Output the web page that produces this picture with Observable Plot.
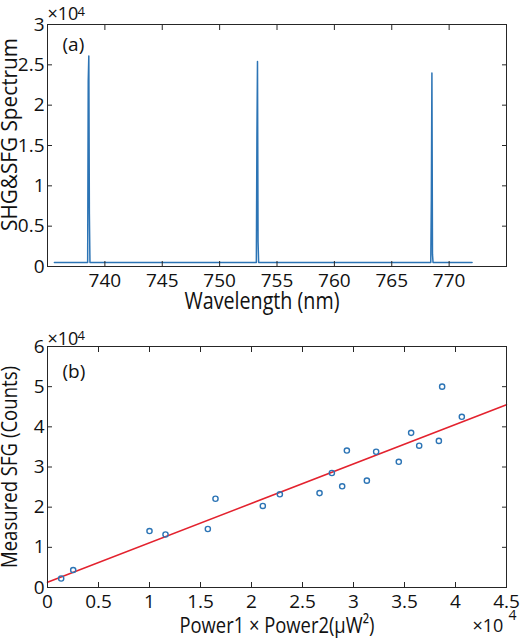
<!DOCTYPE html>
<html>
<head>
<meta charset="utf-8">
<script src="https://cdn.jsdelivr.net/npm/d3@7"></script>
<script src="https://cdn.jsdelivr.net/npm/@observablehq/plot@0.6"></script>
<style>
  html, body { margin: 0; padding: 0; background: #fff; }
  #chart { width: 520px; }
  #chart svg { display: block; overflow: visible; }
</style>
</head>
<body>
<div id="chart"></div>
<script>
// ---- Panel (a): spectrum ----
const wavelength = [735.6, 738.5, 738.55, 738.6, 738.65, 738.7, 753.2, 753.25, 753.3, 753.35, 753.4, 768.4, 768.45, 768.5, 768.55, 768.6, 772.0];
const intensity  = [500,   500,   23000,  26100,  6500,   500,   500,   16000,  25400,  3000,   500,   500,   8200,   24000,  1500,   500,   500];
const xTicksA = [740, 745, 750, 755, 760, 765, 770];
const yTicksA = [0, 5000, 10000, 15000, 20000, 25000, 30000];

// ---- Panel (b): SFG vs power product ----
const powerProduct = [1340, 2520, 10000, 11570, 15720, 16470, 21110, 22780, 26670, 27880, 28890, 29350, 31310, 32220, 34440, 35650, 36440, 38370, 38690, 40620];
const measuredSFG  = [2240, 4340, 14060, 13200, 14560, 22100, 20300, 23200, 23500, 28500, 25200, 34100, 26600, 33800, 31300, 38500, 35300, 36500, 50000, 42500];
const fitX = [0, 45000];
const fitY = [1300, 45500];
const xTicksB = [0, 5000, 10000, 15000, 20000, 25000, 30000, 35000, 40000, 45000];
const yTicksB = [0, 10000, 20000, 30000, 40000, 50000, 60000];

const FONT = "'Open Sans', 'Noto Sans', sans-serif";
const AX = "#262626";
const TXT = "#111";
const fmt = d => String(+(d / 1e4).toFixed(1));

function inwardAxes(xTicks, yTicks, xFmt) {
  const common = {stroke: AX, strokeWidth: 1};
  return [
    Plot.axisX(xTicks, {anchor: "bottom", tickSize: 0, tickPadding: 7, tickFormat: xFmt, label: null, fill: TXT, fontSize: 19, fontWeight: 500}),
    Plot.axisY(yTicks, {anchor: "left", tickSize: 0, tickPadding: 3, tickFormat: fmt, label: null, fill: TXT, fontSize: 19, fontWeight: 500}),
    Plot.axisX(xTicks, {anchor: "bottom", tickSize: -5, tickFormat: () => "", label: null, ...common}),
    Plot.axisX(xTicks, {anchor: "top", tickSize: -5, tickFormat: () => "", label: null, ...common}),
    Plot.axisY(yTicks, {anchor: "left", tickSize: -5, tickFormat: () => "", label: null, ...common}),
    Plot.axisY(yTicks, {anchor: "right", tickSize: -5, tickFormat: () => "", label: null, ...common}),
    Plot.frame({stroke: AX, strokeWidth: 1})
  ];
}

const spectrum = wavelength.map((w, i) => ({w, v: intensity[i]}));
const points = powerProduct.map((p, i) => ({p, s: measuredSFG[i]}));
const fit = fitX.map((x, i) => ({x, y: fitY[i]}));

const label = (txt, o) => Plot.text([txt], {text: d => d, lineAnchor: "middle", fill: TXT, fontWeight: 500, ...o});

const plotA = Plot.plot({
  width: 520,
  height: 310,
  marginLeft: 47,
  marginRight: 14,
  marginTop: 24,
  marginBottom: 44,
  style: {fontFamily: FONT, fontSize: "18px", color: AX, background: "#fff", overflow: "visible"},
  x: {domain: [735, 775]},
  y: {domain: [0, 30000]},
  marks: [
    Plot.line(spectrum, {x: "w", y: "v", stroke: "#2c74b5", strokeWidth: 1.5}),
    ...inwardAxes(xTicksA, yTicksA, d => d),
    label("(a)", {frameAnchor: "top-left", dx: 15, dy: 20, textAnchor: "start", fontSize: 19}),
    label("×10", {frameAnchor: "top-left", dx: 0, dy: -10, textAnchor: "start", fontSize: 18}),
    label("4", {frameAnchor: "top-left", dx: 30, dy: -13, textAnchor: "start", fontSize: 13}),
    label("SHG&SFG Spectrum", {frameAnchor: "left", dx: -37, dy: -11, rotate: -90, textAnchor: "middle", fontSize: 21, className: "sq-ya"}),
    label("Wavelength (nm)", {frameAnchor: "bottom", dx: -15, dy: 35.5, textAnchor: "middle", fontSize: 23, className: "sq-xa"})
  ]
});

const plotB = Plot.plot({
  width: 520,
  height: 330,
  marginLeft: 47,
  marginRight: 14,
  marginTop: 36,
  marginBottom: 53,
  style: {fontFamily: FONT, fontSize: "18px", color: AX, background: "#fff", overflow: "visible"},
  x: {domain: [0, 45000]},
  y: {domain: [0, 60000]},
  marks: [
    Plot.line(fit, {x: "x", y: "y", stroke: "#e3222e", strokeWidth: 1.5}),
    Plot.dot(points, {x: "p", y: "s", r: 2.6, stroke: "#2c74b5", strokeWidth: 1.4, fill: "none"}),
    ...inwardAxes(xTicksB, yTicksB, fmt),
    label("(b)", {frameAnchor: "top-left", dx: 15, dy: 25, textAnchor: "start", fontSize: 19}),
    label("×10", {frameAnchor: "top-left", dx: 0, dy: -7, textAnchor: "start", fontSize: 18}),
    label("4", {frameAnchor: "top-left", dx: 30, dy: -11, textAnchor: "start", fontSize: 13}),
    label("×10", {frameAnchor: "bottom-right", dx: -34, dy: 38.5, textAnchor: "start", fontSize: 18}),
    label("4", {frameAnchor: "bottom-right", dx: 2, dy: 28, textAnchor: "start", fontSize: 14}),
    label("Measured SFG (Counts)", {frameAnchor: "left", dx: -37, rotate: -90, textAnchor: "middle", fontSize: 21, className: "sq-yb"}),
    label("Power1 × Power2(μW²)", {frameAnchor: "bottom", dy: 38.5, textAnchor: "middle", fontSize: 22.5, className: "sq-xb"})
  ]
});

// Fit the axis titles to the reference's (narrower) lettering widths
function squish(svg, cls, len) {
  d3.select(svg).selectAll(`g.${cls} text`)
    .attr("textLength", len)
    .attr("lengthAdjust", "spacingAndGlyphs");
}
squish(plotA, "sq-ya", 193);
squish(plotA, "sq-xa", 155);
squish(plotB, "sq-yb", 202);
squish(plotB, "sq-xb", 195);

document.getElementById("chart").append(plotA, plotB);
</script>
</body>
</html>
